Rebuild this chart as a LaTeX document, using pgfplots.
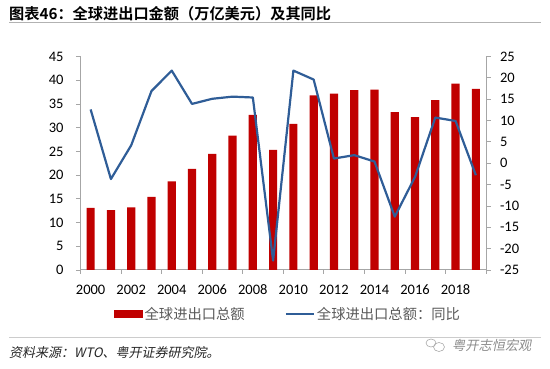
\documentclass[border=0pt]{standalone}
\usepackage{fontspec}
\usepackage{pgfplots}
\usepackage{pgfplotstable}
\pgfplotsset{compat=1.18}
\setmainfont{Carlito}
\newfontfamily\cjk[BoldFont=Noto Sans CJK SC Bold,BoldFeatures={}]{Noto Sans CJK SC}
\newfontfamily\cjkslant[FakeSlant=0.2]{Noto Sans CJK SC}
\definecolor{barred}{HTML}{C00000}
\definecolor{lineblue}{HTML}{2F5D97}
\definecolor{axgray}{HTML}{A6A6A6}
\pgfplotstableread{
x total yoy
0 13.1 12.6
1 12.6 -3.7
2 13.2 4.2
3 15.4 16.9
4 18.7 21.7
5 21.3 13.9
6 24.5 15.1
7 28.3 15.6
8 32.7 15.4
9 25.3 -22.8
10 30.8 21.7
11 36.8 19.6
12 37.2 1.1
13 37.9 1.9
14 38.0 0.4
15 33.3 -12.5
16 32.2 -3.2
17 35.8 10.7
18 39.3 9.9
19 38.2 -2.8
}\data
\pgfplotsset{
  common/.style={
    at={(80.5pt,99pt)}, anchor=south west,
    scale only axis, width=405.5pt, height=213.5pt,
    xmin=-0.5, xmax=19.5,
    axis line style={axgray,line width=1pt},
    tick style={axgray,line width=0.8pt},
    tick align=outside,
    /pgf/number format/assume math mode=true,
    ticklabel style={font=\fontsize{14.5}{15}\selectfont,black},
  }
}
\begin{document}
\begin{tikzpicture}[x=1pt,y=1pt]
\path[use as bounding box] (0,0) rectangle (550,369);
\node[anchor=base west,inner sep=0pt,text=black] at (9,349.5) {\cjk\bfseries\fontsize{15.2}{15.2}\selectfont 图表46：全球进出口金额（万亿美元）及其同比};
\draw[gray!60,line width=0.8pt] (9,346.5) -- (541,346.5);
\begin{axis}[common,
  axis y line*=left, axis x line*=bottom,
  ymin=0,ymax=45,ytick={0,5,...,45},
  xtick={0,2,...,18},
  xticklabels={2000,2002,2004,2006,2008,2010,2012,2014,2016,2018},
  major x tick style={draw=none},
  minor xtick={-0.5,1.5,3.5,5.5,7.5,9.5,11.5,13.5,15.5,17.5,19.5},
  minor tick length=4pt, major tick length=4.5pt,
  xticklabel style={yshift=-7pt},
  yticklabel style={xshift=-9pt},
]
\addplot[ybar,bar width=8.2pt,fill=barred,draw=none,bar shift=0pt] table[x=x,y=total]{\data};
\end{axis}
\begin{axis}[common,
  axis y line*=right, axis x line=none,
  ymin=-25,ymax=25,ytick={-25,-20,...,25},
  major tick length=4.5pt,
  yticklabel style={xshift=6pt},
  legend style={at={(0.512,-0.205)},anchor=center,draw=none,fill=none,
    legend columns=2,font=\cjk\fontsize{14.3}{15}\selectfont,text=black!65,
    /tikz/every even column/.append style={column sep=38pt},
    inner sep=0pt},
]
\addlegendimage{legend image code/.code={\fill[barred] (-4pt,-3.5pt) rectangle (24pt,3.5pt);}}
\addlegendentry{全球进出口总额}
\addplot[lineblue,line width=2.2pt,line join=round,
  forget plot] table[x=x,y=yoy]{\data};
\addlegendimage{legend image code/.code={\draw[lineblue,line width=2.2pt] (-4pt,0) -- (24pt,0);}}
\addlegendentry{全球进出口总额：同比}
\end{axis}
\draw[gray!40,line width=0.8pt] (9,31.5) -- (541,31.5);
\node[anchor=base west,inner sep=0pt,text=black!85] at (9,11.5) {\cjkslant\fontsize{13}{13}\selectfont 资料来源：WTO、粤开证券研究院。};
\node[anchor=base west,inner sep=0pt,text=black!45] at (452,18) {\cjkslant\fontsize{13.2}{14}\selectfont 粤开志恒宏观};
\draw[black!35,line width=0.6pt] (431,26) ellipse (5pt and 4pt);
\draw[black!35,line width=0.6pt] (439,22) ellipse (5.5pt and 4.5pt);
\end{tikzpicture}
\end{document}
